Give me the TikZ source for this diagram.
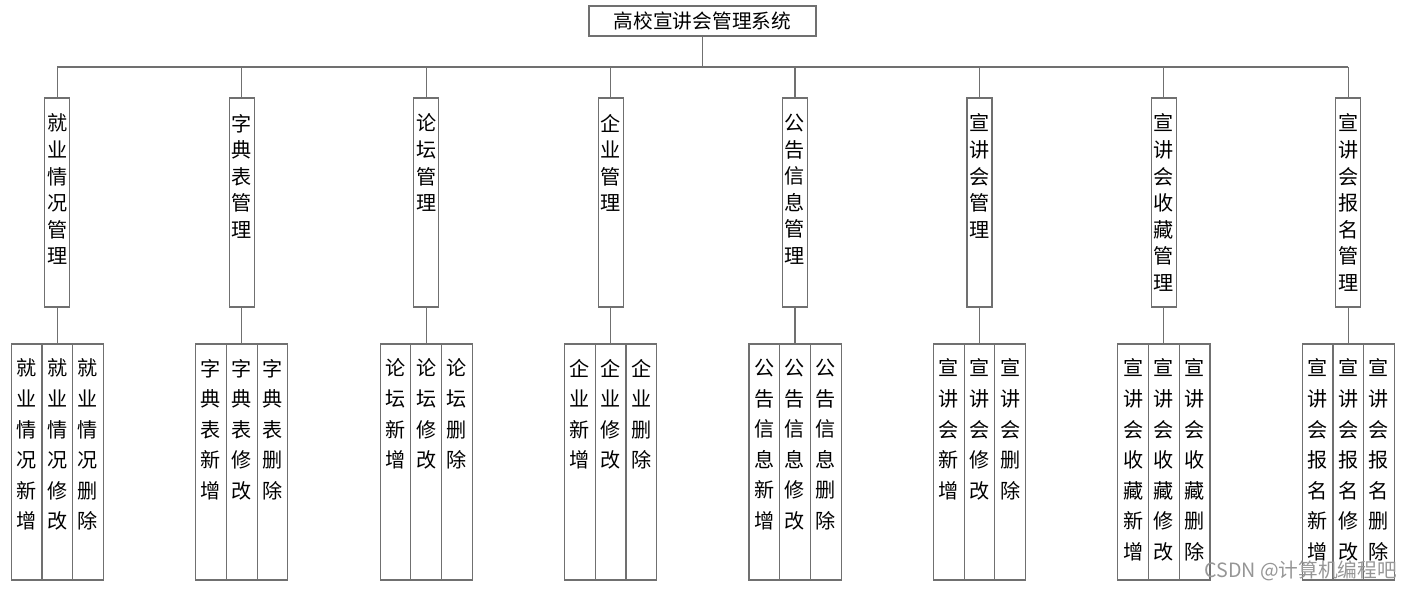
\documentclass[tikz,border=0pt]{standalone}
\usepackage{fontspec}
\newfontfamily\cjk{Noto Sans CJK SC}
\usetikzlibrary{positioning}
\definecolor{frame}{RGB}{112,112,112}
\definecolor{wm}{RGB}{150,150,150}
\newlength\px \setlength\px{0.025cm}
% stack the characters of a word one under another
\let\vend\relax
\newcommand\vchars[1]{\vcharsA#1\vend}
\def\vcharsA#1{\ifx#1\vend\else#1\par\expandafter\vcharsA\fi}
\newcommand\vtext[1]{\edef\vtmp{#1}\expandafter\vchars\expandafter{\vtmp}}
\newcommand\modtext[1]{\parbox[c][209\px][t]{25\px}{\centering\vspace*{16\px}\vtext{#1}}}
\newcommand\leaftext[1]{\parbox[c][236\px][t]{30.7\px}{\centering\vspace*{15\px}\vtext{#1}}}
\tikzset{
  topbox/.style={draw=frame, line width=.8pt, minimum width=227\px, minimum height=30\px,
    inner sep=0pt, font=\cjk\fontsize{14pt}{16pt}\selectfont},
  module/.style={draw=frame, line width=.8pt, inner sep=0pt, outer sep=0pt,
    font=\cjk\fontsize{14.3pt}{26.6\px}\selectfont},
  leaf/.style={draw=frame, line width=.8pt, inner sep=0pt, outer sep=0pt,
    font=\cjk\fontsize{14.3pt}{30.6\px}\selectfont},
  link/.style={draw=frame, line width=.8pt},
}
\begin{document}
\begin{tikzpicture}[x=0.025cm, y=-0.025cm]
\useasboundingbox (0,0) rectangle (1416,589);
\node[topbox] (root) at (702.5,21) {高校宣讲会管理系统};
\coordinate (bus) at (702.5,67);
\foreach \i/\name in {1/就业情况, 2/字典表, 3/论坛, 4/企业, 5/公告信息,
  6/宣讲会, 7/宣讲会收藏, 8/宣讲会报名} {
  \pgfmathsetmacro\cx{57.3+184.43*(\i-1)}
  \node[module] (m\i) at (\cx,202.5) {\modtext{\name 管理}};
  \node[leaf] (m\i-b) at (\cx,462) {\leaftext{\name 修改}};
  \node[leaf, left=0pt of m\i-b] (m\i-a) {\leaftext{\name 新增}};
  \node[leaf, right=0pt of m\i-b] (m\i-c) {\leaftext{\name 删除}};
  \draw[link] (m\i.north |- bus) -- (m\i.north);
  \draw[link] (m\i.south) -- (m\i-b.north);
}
\draw[link] (root.south) -- (bus);
\draw[link] (m1.north |- bus) -- (m8.north |- bus);
\node[anchor=east, text=wm, font=\cjk\fontsize{14pt}{16pt}\selectfont] (mark) at (1402,571)
  {CSDN @计算机编程吧};
\end{tikzpicture}
\end{document}
